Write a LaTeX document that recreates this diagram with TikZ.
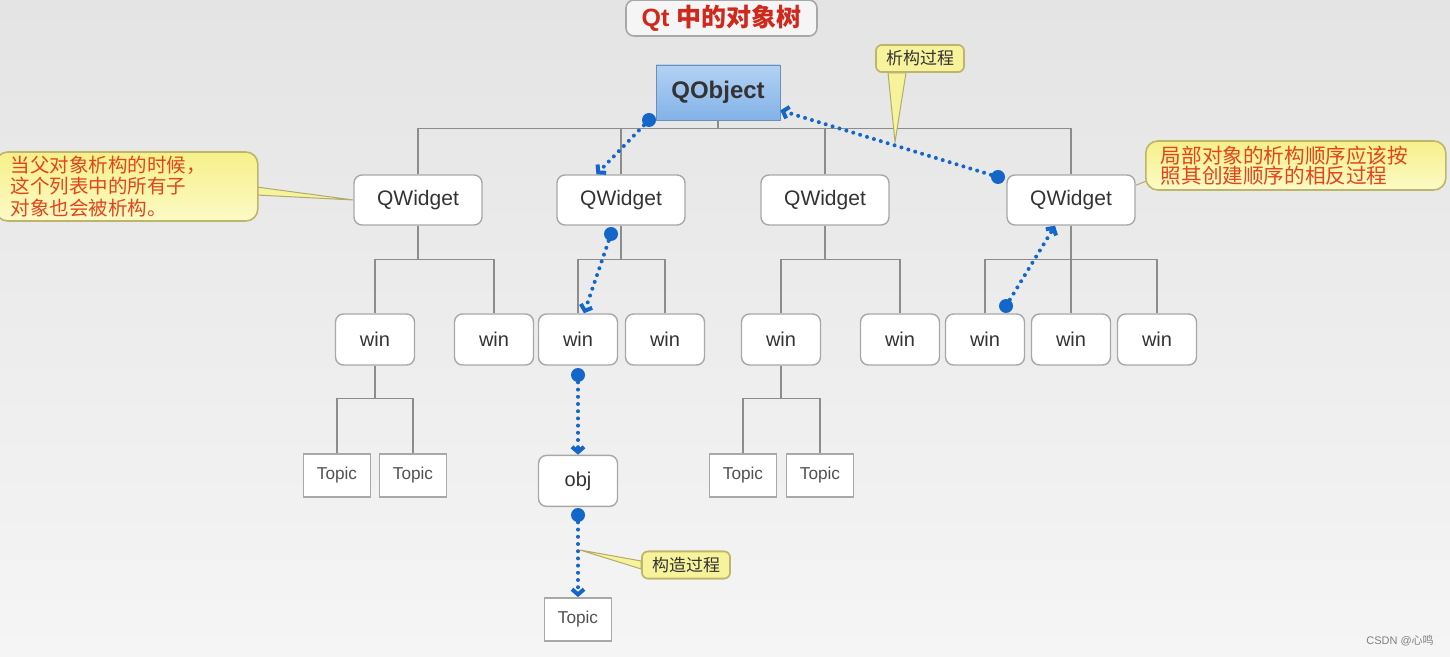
\documentclass[tikz,border=0pt]{standalone}
\usepackage{fontspec}
\setmainfont{Liberation Sans}
\newfontfamily\cjk{Noto Sans CJK SC}
\usepackage{tikz}
\usetikzlibrary{positioning, calc, arrows.meta}
\usepackage{xcolor}
\definecolor{bgtop}{HTML}{E4E4E4}
\definecolor{bgbottom}{HTML}{F5F5F5}
\definecolor{boxgray}{HTML}{A8A8A8}
\definecolor{linegray}{HTML}{8C8C8C}
\definecolor{textgray}{HTML}{333333}
\definecolor{dotblue}{HTML}{1466C8}
\definecolor{qbluetop}{HTML}{B3D2F4}
\definecolor{qbluebot}{HTML}{82B2E8}
\definecolor{qborder}{HTML}{6E8FB5}
\definecolor{titlered}{HTML}{D0281C}
\definecolor{noteyellow}{HTML}{F6F08A}
\definecolor{notelight}{HTML}{FCFAC6}
\definecolor{noteborder}{HTML}{BDB66A}
\definecolor{notered}{HTML}{E2441C}
\tikzstyle{titlebox} = [rectangle, rounded corners=4pt, draw=boxgray, fill=gray!8, line width=0.8pt, minimum width=95.5pt, minimum height=18pt, inner sep=1pt, text=titlered, font=\fontsize{12.5}{14}\selectfont]
\tikzstyle{rootbox} = [rectangle, draw=qborder, top color=qbluetop, bottom color=qbluebot, minimum width=62pt, minimum height=27.5pt, text=textgray, font=\bfseries\fontsize{12}{14}\selectfont]
\tikzstyle{objbox} = [rectangle, rounded corners=4pt, draw=boxgray, fill=white, line width=0.7pt, minimum width=64pt, minimum height=25pt, text=textgray, font=\fontsize{10.5}{12}\selectfont]
\tikzstyle{winbox} = [objbox, minimum width=39.5pt, minimum height=25.5pt, font=\fontsize{10}{12}\selectfont]
\tikzstyle{topicbox} = [rectangle, draw=boxgray, fill=white, line width=0.7pt, minimum width=33.5pt, minimum height=21.5pt, text=textgray!85, font=\fontsize{8.6}{10}\selectfont]
\tikzstyle{note} = [rectangle, rounded corners=6pt, draw=noteborder, line width=0.8pt, top color=noteyellow, bottom color=notelight, text=notered, align=left, inner xsep=7.5pt, inner ysep=2pt]
\tikzstyle{tag} = [rectangle, rounded corners=3pt, draw=noteborder, line width=0.8pt, fill=noteyellow!85, text=textgray, font=\cjk\fontsize{8.5}{10}\selectfont, minimum width=44pt, minimum height=13.5pt, inner sep=1pt]
\tikzstyle{pointer} = [draw=noteborder!80!gray, fill=noteyellow!85, line width=0.5pt]
\tikzstyle{tree} = [draw=linegray, line width=0.7pt]
\tikzstyle{dot} = [circle, fill=dotblue, inner sep=0pt, minimum size=7pt]
\tikzstyle{flow} = [dotblue, line width=2pt, dash pattern=on 0pt off 3.6pt, line cap=round, -{Straight Barb[length=2.6pt,width=6pt]}]

\begin{document}
\begin{tikzpicture}[x=0.5pt, y=-0.5pt]
        \shade [top color=bgtop, bottom color=bgbottom] (0,0) rectangle (1450,657);
        \useasboundingbox (0,0) rectangle (1450,657);

        % title and root
        \node (title) [titlebox] at (721.5,18) {\textbf{Qt} {\cjk\bfseries 中的对象树}};
        \node (qobj) [rootbox] at (718,92.5) {QObject};

        % second level
        \node (qw1) [objbox] at (418,200) {QWidget};
        \node (qw2) [objbox] at (621,200) {QWidget};
        \node (qw3) [objbox] at (825,200) {QWidget};
        \node (qw4) [objbox] at (1071,200) {QWidget};

        % third level
        \node (win1) [winbox] at (375,339.5) {win};
        \node (win2) [winbox] at (494,339.5) {win};
        \node (win3) [winbox] at (578,339.5) {win};
        \node (win4) [winbox] at (665,339.5) {win};
        \node (win5) [winbox] at (781,339.5) {win};
        \node (win6) [winbox] at (900,339.5) {win};
        \node (win7) [winbox] at (985,339.5) {win};
        \node (win8) [winbox] at (1071,339.5) {win};
        \node (win9) [winbox] at (1157,339.5) {win};

        % leaves
        \node (topic1) [topicbox] at (337,475.5) {Topic};
        \node (topic2) [topicbox] at (413,475.5) {Topic};
        \node (topic3) [topicbox] at (743,475.5) {Topic};
        \node (topic4) [topicbox] at (820,475.5) {Topic};
        \node (obj) [winbox, below=44.5pt of win3] {obj};
        \node (topic5) [topicbox, below=45pt of obj] {Topic};

        % tree lines
        \foreach \c in {qw1,qw2,qw3,qw4}
            \draw [tree] (qobj.south) -- ++(0,8) -| (\c.north);
        \foreach \c in {win1,win2}
            \draw [tree] (qw1.south) -- ++(0,34) -| (\c.north);
        \foreach \c in {win3,win4}
            \draw [tree] (qw2.south) -- ++(0,34) -| (\c.north);
        \foreach \c in {win5,win6}
            \draw [tree] (qw3.south) -- ++(0,34) -| (\c.north);
        \foreach \c in {win7,win8,win9}
            \draw [tree] (qw4.south) -- ++(0,34) -| (\c.north);
        \foreach \c in {topic1,topic2}
            \draw [tree] (win1.south) -- ++(0,33) -| (\c.north);
        \foreach \c in {topic3,topic4}
            \draw [tree] (win5.south) -- ++(0,33) -| (\c.north);

        % callouts
        \coordinate (dtip) at (895,142);
        \coordinate (ctip) at (580,550);
        \node (dnote) [tag] at (920,58.5) {析构过程};
        \node (cnote) [tag] at (686,565) {构造过程};
        \draw [pointer] ($(dnote.south)+(-32,0)$) -- (dtip) -- ($(dnote.south)+(-14,0)$) -- cycle;
        \draw [pointer] ($(cnote.west)+(0,-4)$) -- (ctip) -- ($(cnote.west)+(0,4)$) -- cycle;
        \node (dnote) [tag] at (920,58.5) {析构过程};
        \node (cnote) [tag] at (686,565) {构造过程};

        \draw [pointer] ($(qw1.west)+(-97,-13)$) -- (qw1.west) -- ($(qw1.west)+(-97,-5)$) -- cycle;
        \node (lnote) [note, anchor=west, text width=116pt, minimum height=34.5pt, font=\cjk\fontsize{9.75}{10.75}\selectfont] at (-5,186.5) {当父对象析构的时候，\\这个列表中的所有子\\对象也会被析构。};
        \draw [pointer] ($(qw4.north east)+(0,11)$) -- ++(10,-4);
        \node (rnote) [note, anchor=west, text width=135pt, minimum height=24.5pt, font=\cjk\fontsize{10.3}{10}\selectfont] at (1145,165.5) {局部对象的析构顺序应该按\\照其创建顺序的相反过程};

        % construction / destruction order
        \node (d1) [dot] at (649,120) {};
        \node (d2) [dot] at (611,234) {};
        \node (d3) [dot] at (998,177) {};
        \node (d4) [dot] at (1006,306) {};
        \node (d5) [dot] at (578,375) {};
        \node (d6) [dot] at (578,515) {};
        \draw [flow] (d1) -- ($(qw2.north west)!0.31!(qw2.north east)$);
        \draw [flow] (d2) -- ($(win3.north)+(6,0)$);
        \draw [flow] (d3) -- ($(qobj.south east)+(0,-10)$);
        \draw [flow] (d4) -- ($(qw4.south)+(-16,0)$);
        \draw [flow] (d5) -- (obj.north);
        \draw [flow] (d6) -- (topic5.north);

        \node (mark) [font=\fontsize{5.5}{6}\selectfont, text=gray] at (1400,641) {CSDN @{\cjk 心鸣}};
    \end{tikzpicture}
\end{document}
